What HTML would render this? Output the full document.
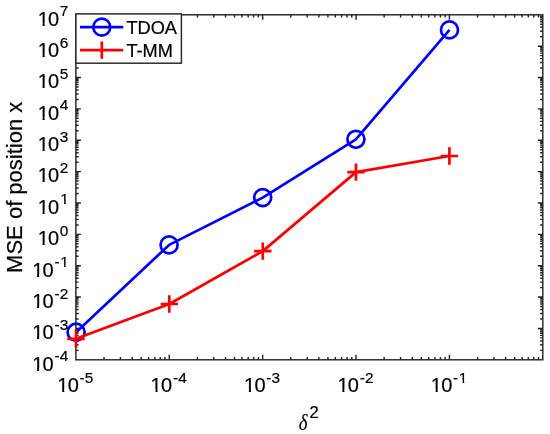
<!DOCTYPE html>
<html><head><meta charset="utf-8"><style>
html,body{margin:0;padding:0;background:#fff;}
svg{display:block;}
text{font-family:"Liberation Sans",Arial,sans-serif;fill:#000;stroke:#000;stroke-width:0.2px;}
.b{font-size:20px;}
.e{font-size:15.4px;}
.lg{font-size:18.2px;}
.yl{font-size:22px;}
</style></head><body>
<svg width="550" height="434" viewBox="0 0 550 434">
<defs><clipPath id="c20"><rect x="0" y="-16" width="12" height="13.4"/><rect x="5.5" y="-3" width="2.15" height="4"/></clipPath><clipPath id="c16"><rect x="0" y="-14" width="10" height="11.6"/><rect x="4.22" y="-3" width="1.75" height="4"/></clipPath></defs>
<rect width="550" height="434" fill="#fff"/>
<g fill="none" stroke="#262626" stroke-width="1.45"><path d="M104.01 359.80V357.10M104.01 14.80V17.50M120.45 359.80V357.10M120.45 14.80V17.50M132.12 359.80V357.10M132.12 14.80V17.50M141.17 359.80V357.10M141.17 14.80V17.50M148.56 359.80V357.10M148.56 14.80V17.50M154.82 359.80V357.10M154.82 14.80V17.50M160.23 359.80V357.10M160.23 14.80V17.50M165.01 359.80V357.10M165.01 14.80V17.50M169.28 359.80V354.80M169.28 14.80V19.80M197.39 359.80V357.10M197.39 14.80V17.50M213.83 359.80V357.10M213.83 14.80V17.50M225.50 359.80V357.10M225.50 14.80V17.50M234.55 359.80V357.10M234.55 14.80V17.50M241.94 359.80V357.10M241.94 14.80V17.50M248.20 359.80V357.10M248.20 14.80V17.50M253.61 359.80V357.10M253.61 14.80V17.50M258.39 359.80V357.10M258.39 14.80V17.50M262.66 359.80V354.80M262.66 14.80V19.80M290.77 359.80V357.10M290.77 14.80V17.50M307.21 359.80V357.10M307.21 14.80V17.50M318.88 359.80V357.10M318.88 14.80V17.50M327.93 359.80V357.10M327.93 14.80V17.50M335.32 359.80V357.10M335.32 14.80V17.50M341.58 359.80V357.10M341.58 14.80V17.50M346.99 359.80V357.10M346.99 14.80V17.50M351.77 359.80V357.10M351.77 14.80V17.50M356.04 359.80V354.80M356.04 14.80V19.80M384.15 359.80V357.10M384.15 14.80V17.50M400.59 359.80V357.10M400.59 14.80V17.50M412.26 359.80V357.10M412.26 14.80V17.50M421.31 359.80V357.10M421.31 14.80V17.50M428.70 359.80V357.10M428.70 14.80V17.50M434.96 359.80V357.10M434.96 14.80V17.50M440.37 359.80V357.10M440.37 14.80V17.50M445.15 359.80V357.10M445.15 14.80V17.50M449.42 359.80V354.80M449.42 14.80V19.80M477.53 359.80V357.10M477.53 14.80V17.50M493.97 359.80V357.10M493.97 14.80V17.50M505.64 359.80V357.10M505.64 14.80V17.50M514.69 359.80V357.10M514.69 14.80V17.50M522.08 359.80V357.10M522.08 14.80V17.50M528.34 359.80V357.10M528.34 14.80V17.50M533.75 359.80V357.10M533.75 14.80V17.50M538.53 359.80V357.10M538.53 14.80V17.50M75.90 350.36H78.60M542.80 350.36H540.10M75.90 344.84H78.60M542.80 344.84H540.10M75.90 340.92H78.60M542.80 340.92H540.10M75.90 337.88H78.60M542.80 337.88H540.10M75.90 335.39H78.60M542.80 335.39H540.10M75.90 333.29H78.60M542.80 333.29H540.10M75.90 331.48H78.60M542.80 331.48H540.10M75.90 329.87H78.60M542.80 329.87H540.10M75.90 328.44H80.90M542.80 328.44H537.80M75.90 318.99H78.60M542.80 318.99H540.10M75.90 313.47H78.60M542.80 313.47H540.10M75.90 309.55H78.60M542.80 309.55H540.10M75.90 306.51H78.60M542.80 306.51H540.10M75.90 304.03H78.60M542.80 304.03H540.10M75.90 301.93H78.60M542.80 301.93H540.10M75.90 300.11H78.60M542.80 300.11H540.10M75.90 298.51H78.60M542.80 298.51H540.10M75.90 297.07H80.90M542.80 297.07H537.80M75.90 287.63H78.60M542.80 287.63H540.10M75.90 282.11H78.60M542.80 282.11H540.10M75.90 278.19H78.60M542.80 278.19H540.10M75.90 275.15H78.60M542.80 275.15H540.10M75.90 272.67H78.60M542.80 272.67H540.10M75.90 270.57H78.60M542.80 270.57H540.10M75.90 268.75H78.60M542.80 268.75H540.10M75.90 267.14H78.60M542.80 267.14H540.10M75.90 265.71H80.90M542.80 265.71H537.80M75.90 256.27H78.60M542.80 256.27H540.10M75.90 250.74H78.60M542.80 250.74H540.10M75.90 246.83H78.60M542.80 246.83H540.10M75.90 243.79H78.60M542.80 243.79H540.10M75.90 241.30H78.60M542.80 241.30H540.10M75.90 239.20H78.60M542.80 239.20H540.10M75.90 237.38H78.60M542.80 237.38H540.10M75.90 235.78H78.60M542.80 235.78H540.10M75.90 234.35H80.90M542.80 234.35H537.80M75.90 224.90H78.60M542.80 224.90H540.10M75.90 219.38H78.60M542.80 219.38H540.10M75.90 215.46H78.60M542.80 215.46H540.10M75.90 212.42H78.60M542.80 212.42H540.10M75.90 209.94H78.60M542.80 209.94H540.10M75.90 207.84H78.60M542.80 207.84H540.10M75.90 206.02H78.60M542.80 206.02H540.10M75.90 204.42H78.60M542.80 204.42H540.10M75.90 202.98H80.90M542.80 202.98H537.80M75.90 193.54H78.60M542.80 193.54H540.10M75.90 188.02H78.60M542.80 188.02H540.10M75.90 184.10H78.60M542.80 184.10H540.10M75.90 181.06H78.60M542.80 181.06H540.10M75.90 178.58H78.60M542.80 178.58H540.10M75.90 176.48H78.60M542.80 176.48H540.10M75.90 174.66H78.60M542.80 174.66H540.10M75.90 173.05H78.60M542.80 173.05H540.10M75.90 171.62H80.90M542.80 171.62H537.80M75.90 162.18H78.60M542.80 162.18H540.10M75.90 156.65H78.60M542.80 156.65H540.10M75.90 152.74H78.60M542.80 152.74H540.10M75.90 149.70H78.60M542.80 149.70H540.10M75.90 147.21H78.60M542.80 147.21H540.10M75.90 145.11H78.60M542.80 145.11H540.10M75.90 143.29H78.60M542.80 143.29H540.10M75.90 141.69H78.60M542.80 141.69H540.10M75.90 140.25H80.90M542.80 140.25H537.80M75.90 130.81H78.60M542.80 130.81H540.10M75.90 125.29H78.60M542.80 125.29H540.10M75.90 121.37H78.60M542.80 121.37H540.10M75.90 118.33H78.60M542.80 118.33H540.10M75.90 115.85H78.60M542.80 115.85H540.10M75.90 113.75H78.60M542.80 113.75H540.10M75.90 111.93H78.60M542.80 111.93H540.10M75.90 110.33H78.60M542.80 110.33H540.10M75.90 108.89H80.90M542.80 108.89H537.80M75.90 99.45H78.60M542.80 99.45H540.10M75.90 93.93H78.60M542.80 93.93H540.10M75.90 90.01H78.60M542.80 90.01H540.10M75.90 86.97H78.60M542.80 86.97H540.10M75.90 84.49H78.60M542.80 84.49H540.10M75.90 82.39H78.60M542.80 82.39H540.10M75.90 80.57H78.60M542.80 80.57H540.10M75.90 78.96H78.60M542.80 78.96H540.10M75.90 77.53H80.90M542.80 77.53H537.80M75.90 68.09H78.60M542.80 68.09H540.10M75.90 62.56H78.60M542.80 62.56H540.10M75.90 58.64H78.60M542.80 58.64H540.10M75.90 55.61H78.60M542.80 55.61H540.10M75.90 53.12H78.60M542.80 53.12H540.10M75.90 51.02H78.60M542.80 51.02H540.10M75.90 49.20H78.60M542.80 49.20H540.10M75.90 47.60H78.60M542.80 47.60H540.10M75.90 46.16H80.90M542.80 46.16H537.80M75.90 36.72H78.60M542.80 36.72H540.10M75.90 31.20H78.60M542.80 31.20H540.10M75.90 27.28H78.60M542.80 27.28H540.10M75.90 24.24H78.60M542.80 24.24H540.10M75.90 21.76H78.60M542.80 21.76H540.10M75.90 19.66H78.60M542.80 19.66H540.10M75.90 17.84H78.60M542.80 17.84H540.10M75.90 16.24H78.60M542.80 16.24H540.10"/>
<rect x="75.9" y="14.8" width="466.90" height="345.00"/></g>
<polyline points="76.1,332.2 169.1,244.9 262.7,197.6 355.9,139.3 449.5,29.9" fill="none" stroke="#00f" stroke-width="2.7" stroke-linejoin="round"/>
<g fill="none" stroke="#00f" stroke-width="2.7"><circle cx="76.1" cy="332.2" r="8.5"/><circle cx="169.1" cy="244.9" r="8.5"/><circle cx="262.7" cy="197.6" r="8.5"/><circle cx="355.9" cy="139.3" r="8.5"/><circle cx="449.5" cy="29.9" r="8.5"/></g>
<polyline points="76.0,338.8 169.3,304.0 262.8,251.1 356.0,172.1 449.4,156.0" fill="none" stroke="#f00" stroke-width="2.7" stroke-linejoin="round"/>
<path d="M67.3 338.8H84.7M76.0 330.1V347.5M160.6 304.0H178.0M169.3 295.3V312.7M254.1 251.1H271.5M262.8 242.4V259.8M347.3 172.1H364.7M356.0 163.4V180.8M440.7 156.0H458.1M449.4 147.3V164.7" fill="none" stroke="#f00" stroke-width="2.7"/>
<rect x="75.9" y="13.9" width="105.50" height="49.30" fill="#fff" stroke="#262626" stroke-width="1.45"/>
<path d="M80 27.1H123.3" stroke="#00f" stroke-width="2.7"/>
<circle cx="101.8" cy="27.1" r="8.5" fill="none" stroke="#00f" stroke-width="2.7"/>
<path d="M80 50.1H123.3M101.8 41.5V58.7" stroke="#f00" stroke-width="2.7"/>
<text class="lg" x="126.4" y="33.7">TDOA</text>
<text class="lg" x="126.4" y="56.8">T-MM</text>
<g transform="translate(31.50,370.60)" clip-path="url(#c20)"><text class="b" x="0.65">1</text></g><text class="b" x="42.62" y="370.60">0</text><text class="e" x="54.40" y="361.30">-</text><text class="e" x="59.70" y="361.30">4</text><g transform="translate(31.50,339.24)" clip-path="url(#c20)"><text class="b" x="0.65">1</text></g><text class="b" x="42.62" y="339.24">0</text><text class="e" x="54.40" y="329.94">-</text><text class="e" x="59.70" y="329.94">3</text><g transform="translate(31.50,307.87)" clip-path="url(#c20)"><text class="b" x="0.65">1</text></g><text class="b" x="42.62" y="307.87">0</text><text class="e" x="54.40" y="298.57">-</text><text class="e" x="59.70" y="298.57">2</text><g transform="translate(31.50,276.51)" clip-path="url(#c20)"><text class="b" x="0.65">1</text></g><text class="b" x="42.62" y="276.51">0</text><text class="e" x="54.40" y="267.21">-</text><g transform="translate(59.70,267.21)" clip-path="url(#c16)"><text class="e" x="0.53">1</text></g><g transform="translate(37.00,245.15)" clip-path="url(#c20)"><text class="b" x="0.65">1</text></g><text class="b" x="48.12" y="245.15">0</text><text class="e" x="59.85" y="235.85">0</text><g transform="translate(37.00,213.78)" clip-path="url(#c20)"><text class="b" x="0.65">1</text></g><text class="b" x="48.12" y="213.78">0</text><g transform="translate(59.85,204.48)" clip-path="url(#c16)"><text class="e" x="0.53">1</text></g><g transform="translate(37.00,182.42)" clip-path="url(#c20)"><text class="b" x="0.65">1</text></g><text class="b" x="48.12" y="182.42">0</text><text class="e" x="59.85" y="173.12">2</text><g transform="translate(37.00,151.05)" clip-path="url(#c20)"><text class="b" x="0.65">1</text></g><text class="b" x="48.12" y="151.05">0</text><text class="e" x="59.85" y="141.75">3</text><g transform="translate(37.00,119.69)" clip-path="url(#c20)"><text class="b" x="0.65">1</text></g><text class="b" x="48.12" y="119.69">0</text><text class="e" x="59.85" y="110.39">4</text><g transform="translate(37.00,88.33)" clip-path="url(#c20)"><text class="b" x="0.65">1</text></g><text class="b" x="48.12" y="88.33">0</text><text class="e" x="59.85" y="79.03">5</text><g transform="translate(37.00,56.96)" clip-path="url(#c20)"><text class="b" x="0.65">1</text></g><text class="b" x="48.12" y="56.96">0</text><text class="e" x="59.85" y="47.66">6</text><g transform="translate(37.00,25.60)" clip-path="url(#c20)"><text class="b" x="0.65">1</text></g><text class="b" x="48.12" y="25.60">0</text><text class="e" x="59.85" y="16.30">7</text>
<g transform="translate(56.60,391.90)" clip-path="url(#c20)"><text class="b" x="0.65">1</text></g><text class="b" x="67.72" y="391.90">0</text><text class="e" x="79.50" y="382.50">-</text><text class="e" x="84.80" y="382.50">5</text><g transform="translate(149.98,391.90)" clip-path="url(#c20)"><text class="b" x="0.65">1</text></g><text class="b" x="161.10" y="391.90">0</text><text class="e" x="172.88" y="382.50">-</text><text class="e" x="178.18" y="382.50">4</text><g transform="translate(243.36,391.90)" clip-path="url(#c20)"><text class="b" x="0.65">1</text></g><text class="b" x="254.48" y="391.90">0</text><text class="e" x="266.26" y="382.50">-</text><text class="e" x="271.56" y="382.50">3</text><g transform="translate(336.74,391.90)" clip-path="url(#c20)"><text class="b" x="0.65">1</text></g><text class="b" x="347.86" y="391.90">0</text><text class="e" x="359.64" y="382.50">-</text><text class="e" x="364.94" y="382.50">2</text><g transform="translate(430.12,391.90)" clip-path="url(#c20)"><text class="b" x="0.65">1</text></g><text class="b" x="441.24" y="391.90">0</text><text class="e" x="453.02" y="382.50">-</text><g transform="translate(458.32,382.50)" clip-path="url(#c16)"><text class="e" x="0.53">1</text></g>
<text class="yl" transform="translate(21.7,187.3) rotate(-90) scale(1,1.03)" text-anchor="middle">MSE of position x</text>
<text transform="translate(298.75,429.6) scale(0.85,1.02)" style="font-family:'Liberation Serif',serif;font-style:italic;font-size:22px">δ</text>
<text x="309.6" y="418.2" style="font-size:16.5px">2</text>
</svg>
</body></html>
